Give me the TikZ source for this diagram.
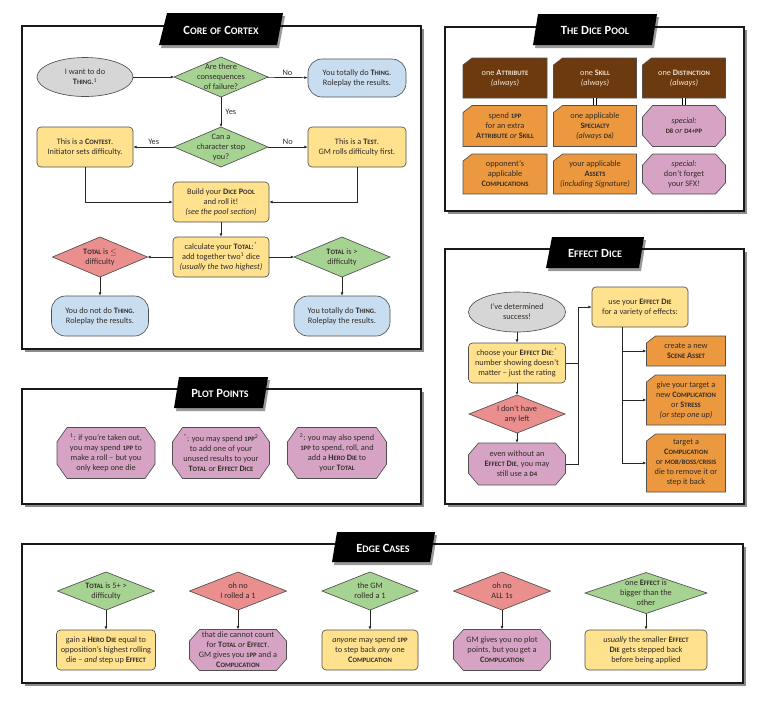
\documentclass[tikz,border=0pt]{standalone}
\usepackage{fontspec}
\setmainfont{Carlito}
\usetikzlibrary{shapes.geometric,arrows.meta,shadows}
\definecolor{greyf}{RGB}{214,214,214}
\definecolor{greenf}{RGB}{166,210,146}
\definecolor{bluef}{RGB}{201,221,241}
\definecolor{yellowf}{RGB}{255,225,142}
\definecolor{redf}{RGB}{234,142,142}
\definecolor{pinkf}{RGB}{214,163,197}
\definecolor{orangef}{RGB}{236,152,62}
\definecolor{brownf}{RGB}{108,58,14}
\definecolor{bord}{RGB}{80,80,80}
\definecolor{txtc}{RGB}{50,44,40}
\definecolor{cream}{RGB}{242,228,212}
\makeatletter
\newcommand\SC[2]{\textbf{#1{\fontsize{\strip@pt\dimexpr0.8\dimexpr\f@size pt\relax\relax}{\f@baselineskip}\selectfont\MakeUppercase{#2}}}}
\makeatother
\tikzset{
  txt/.style={font=\fontsize{8.3}{10}\selectfont, text=txtc, align=center, inner sep=0pt},
  base/.style={draw=bord, line width=0.65pt, inner sep=1pt, txt},
  shp/.style={base, inner sep=0pt, outer sep=0pt, label={[txt]center:{#1}}},
  dia/.style={shp={#1}, diamond},
  ell/.style={shp={#1}, ellipse, fill=greyf},
  shapeline/.style={draw=bord, line width=0.65pt},
  ybox/.style={base, rectangle, rounded corners=4pt, fill=yellowf},
  bbox/.style={base, rectangle, rounded corners=14pt, fill=bluef},
  arr/.style={-{Latex[length=3.2pt,width=2.8pt]}, line width=0.7pt, draw=black!85},
  ln/.style={line width=0.7pt, draw=black!85},
  lbl/.style={font=\fontsize{8.3}{10}\selectfont, text=txtc, inner sep=1pt},
  panel/.style={draw=black!90, line width=1.3pt, fill=white, drop shadow={shadow xshift=3pt, shadow yshift=-3pt, opacity=0.45, fill=black}},
  tab/.style={fill=black, drop shadow={shadow xshift=2pt, shadow yshift=-3pt, opacity=0.4, fill=black}},
  tabtxt/.style={font=\fontsize{12.5}{13}\selectfont, text=white, inner sep=0pt},
}
% octagon: #1 fill, #2 name, #3 x, #4 y, #5 w, #6 h, #7 text
\newcommand\octo[7]{%
  \filldraw[shapeline, fill=#1] ({#3-#5/2+10},{#4-#6/2}) -- ({#3+#5/2-10},{#4-#6/2}) -- ({#3+#5/2},{#4-#6/2+0.28*#6}) -- ({#3+#5/2},{#4+#6/2-0.28*#6}) -- ({#3+#5/2-10},{#4+#6/2}) -- ({#3-#5/2+10},{#4+#6/2}) -- ({#3-#5/2},{#4+#6/2-0.28*#6}) -- ({#3-#5/2},{#4-#6/2+0.28*#6}) -- cycle;
  \node[txt, minimum width=#5pt, minimum height=#6pt] (#2) at (#3,#4) {#7};}
% cut corner box (top-left): #1 fill, #2 name, #3 x, #4 y, #5 w, #6 h, #7 text
\newcommand\cutbox[7]{%
  \filldraw[shapeline, fill=#1] ({#3-#5/2+9},{#4-#6/2}) -- ({#3+#5/2},{#4-#6/2}) -- ({#3+#5/2},{#4+#6/2}) -- ({#3-#5/2},{#4+#6/2}) -- ({#3-#5/2},{#4-#6/2+7}) -- cycle;
  \node[txt, minimum width=#5pt, minimum height=#6pt] (#2) at (#3,#4) {#7};}
\begin{document}
\begin{tikzpicture}[x=1pt,y=-1pt]
\fill[white] (0,0) rectangle (768,705);
\useasboundingbox (0,0) rectangle (768,705);

% ---------- panels ----------
\draw[panel] (22,26) rectangle (421,349);
\draw[panel] (445,27) rectangle (744,211);
\draw[panel] (445,249) rectangle (744,504);
\draw[panel] (22,389) rectangle (421,504);
\draw[panel] (22,544) rectangle (743,683);

% ---------- tabs ----------
\fill[tab] (167,13) -- (283,13) -- (277,45) -- (159,45) -- cycle;
\node[tabtxt] (tcore) at (221,30) {\SC{C}{ore} \SC{}{of} \SC{C}{ortex}};
\fill[tab] (538,14) -- (657,14) -- (652,45) -- (533,45) -- cycle;
\node[tabtxt] (tpool) at (595,30) {\SC{T}{he} \SC{D}{ice} \SC{P}{ool}};
\fill[tab] (552,237) -- (644,237) -- (639,268) -- (546,268) -- cycle;
\node[tabtxt] (teff) at (595,253) {\SC{E}{ffect} \SC{D}{ice}};
\fill[tab] (179,377) -- (268,377) -- (263,408) -- (174,408) -- cycle;
\node[tabtxt] (tplot) at (220,393) {\SC{P}{lot} \SC{P}{oints}};
\fill[tab] (337,532) -- (435,532) -- (430,562) -- (332,562) -- cycle;
\node[tabtxt] (tedge) at (383,548) {\SC{E}{dge} \SC{C}{ases}};

% ---------- Core of Cortex ----------
\node[ell={I want to do\\\SC{T}{hing}.\textsuperscript{1}}, minimum width=96pt, minimum height=39pt] (want) at (85,77) {};
\node[dia={Are there\\consequences\\of failure?}, fill=greenf, minimum width=94pt, minimum height=40pt] (cons) at (221,77) {};
\node[bbox, minimum width=98pt, minimum height=38pt] (do1) at (357,78) {You totally do \SC{T}{hing}.\\Roleplay the results.};
\node[dia={Can a\\character stop\\you?}, fill=greenf, minimum width=94pt, minimum height=40pt] (stop) at (221,147) {};
\node[ybox, minimum width=96pt, minimum height=40pt] (contest) at (85,147) {This is a \SC{C}{ontest}.\\Initiator sets difficulty.};
\node[ybox, minimum width=98pt, minimum height=40pt] (test) at (357,147) {This is a \SC{T}{est}.\\GM rolls difficulty first.};
\node[ybox, minimum width=96pt, minimum height=40pt] (build) at (221,202) {Build your \SC{D}{ice} \SC{P}{ool}\\and roll it!\\\textit{(see the pool section)}};
\node[ybox, minimum width=96pt, minimum height=40pt] (calc) at (221,257) {calculate your \SC{T}{otal}:\textsuperscript{*}\\add together two\textsuperscript{1} dice\\\textit{(usually the two highest)}};
\node[dia={\SC{T}{otal} is $\leq$\\difficulty}, fill=redf, minimum width=95pt, minimum height=40pt] (le) at (100,257) {};
\node[dia={\SC{T}{otal} is >\\difficulty}, fill=greenf, minimum width=96pt, minimum height=40pt] (gt) at (342,257) {};
\node[bbox, minimum width=97pt, minimum height=40pt] (notdo) at (100,316) {You do not do \SC{T}{hing}.\\Roleplay the results.};
\node[bbox, minimum width=96pt, minimum height=40pt] (do2) at (342,316) {You totally do \SC{T}{hing}.\\Roleplay the results.};

\draw[arr] (want) -- (cons);
\draw[arr] (cons) -- node[lbl, above=1pt] {No} (do1);
\draw[arr] (cons) -- node[lbl, right=3pt] {Yes} (stop);
\draw[arr] (stop) -- node[lbl, above=1pt] {Yes} (contest);
\draw[arr] (stop) -- node[lbl, above=1pt] {No} (test);
\draw[arr] (contest) |- (build);
\draw[arr] (test) |- (build);
\draw[arr] (build) -- (calc);
\draw[arr] (calc) -- (le);
\draw[arr] (calc) -- (gt);
\draw[arr] (le) -- (notdo);
\draw[arr] (gt) -- (do2);

% ---------- The Dice Pool ----------
\cutbox{brownf}{attr}{505}{78}{84}{40}{\color{cream}one \SC{A}{ttribute}\\\color{cream}\textit{(always)}}
\cutbox{brownf}{skill}{595}{78}{83}{40}{\color{cream}one \SC{S}{kill}\\\color{cream}\textit{(always)}}
\cutbox{brownf}{dist}{684}{78}{83}{40}{\color{cream}one \SC{D}{istinction}\\\color{cream}\textit{(always)}}
\cutbox{orangef}{spend}{505}{126}{84}{41}{spend \SC{}{1pp}\\for an extra\\\SC{A}{ttribute} \textit{or} \SC{S}{kill}}
\cutbox{orangef}{spec}{595}{126}{83}{41}{one applicable\\\SC{S}{pecialty}\\\textit{(always \SC{}{d6})}}
\octo{pinkf}{sp1}{684}{126}{83}{41}{\textit{special:}\\\SC{}{d8} \textit{or} \SC{}{d4+pp}}
\cutbox{orangef}{opp}{505}{174}{84}{40}{opponent's\\applicable\\\SC{C}{omplications}}
\cutbox{orangef}{assets}{595}{174}{83}{40}{your applicable\\\SC{A}{ssets}\\\textit{(including Signature)}}
\octo{pinkf}{sp2}{684}{174}{83}{40}{\textit{special:}\\don't forget\\your SFX!}
\draw[line width=0.8pt, double=white, double distance=2pt] (skill) -- (spec);
\draw[line width=0.8pt, double=white, double distance=2pt] (dist) -- (sp1);

% ---------- Effect Dice ----------
\node[ell={I've determined\\success!}, minimum width=97pt, minimum height=40pt] (succ) at (517,312) {};
\node[ybox, minimum width=97pt, minimum height=40pt] (choose) at (517,363) {choose your \SC{E}{ffect} \SC{D}{ie}:\textsuperscript{*}\\number showing doesn't\\matter -- just the rating};
\node[dia={I don't have\\any left}, fill=redf, minimum width=96pt, minimum height=38pt] (dont) at (517,414) {};
\octo{pinkf}{without}{517}{464}{97}{42}{even without an\\\SC{E}{ffect} \SC{D}{ie}, you may\\still use a \SC{}{d4}}
\node[ybox, minimum width=96pt, minimum height=40pt] (use) at (640,307) {use your \SC{E}{ffect} \SC{D}{ie}\\for a variety of effects:};
\cutbox{orangef}{sa}{686}{351}{79}{30}{create a new\\\SC{S}{cene} \SC{A}{sset}}
\cutbox{orangef}{comp}{686}{400}{79}{50}{give your target a\\new \SC{C}{omplication}\\or \SC{S}{tress}\\\textit{(or step one up)}}
\cutbox{orangef}{tgt}{686}{463}{79}{58}{target a\\\SC{C}{omplication}\\or \SC{}{mob/boss/crisis}\\die to remove it or\\step it back}

\draw[arr] (succ) -- (choose);
\draw[arr] (choose) -- (dont);
\draw[arr] (dont) -- (without);
\coordinate (bus) at (578,363);
\draw[arr] (choose.east) -- (bus) |- (use.west);
\draw[ln] (without.east) -| (bus);
\coordinate (trunk) at (622,327);
\draw[arr] (trunk) |- (sa.west);
\draw[arr] (trunk) |- (comp.west);
\draw[arr] (trunk) |- (tgt.west);

% ---------- Plot Points ----------
\octo{pinkf}{pp1}{106}{453}{98}{51}{\textsuperscript{1}: if you're taken out,\\you may spend \SC{}{1pp} to\\make a roll -- but you\\only keep one die}
\octo{pinkf}{pp2}{221}{453}{97}{51}{\textsuperscript{*}: you may spend \SC{}{1pp}\textsuperscript{2}\\to add one of your\\unused results to your\\\SC{T}{otal} or \SC{E}{ffect} \SC{D}{ice}}
\octo{pinkf}{pp3}{337}{453}{99}{51}{\textsuperscript{2}: you may also spend\\\SC{}{1pp} to spend, roll, and\\add a \SC{H}{ero} \SC{D}{ie} to\\your \SC{T}{otal}}

% ---------- Edge Cases ----------
\node[dia={\SC{T}{otal} is 5+ >\\difficulty}, fill=greenf, minimum width=97pt, minimum height=38pt] (e1d) at (106,591) {};
\node[ybox, minimum width=99pt, minimum height=40pt] (e1b) at (106,650) {gain a \SC{H}{ero} \SC{D}{ie} equal to\\opposition's highest rolling\\die -- \textit{and} step up \SC{E}{ffect}};
\node[dia={oh no\\I rolled a 1}, fill=redf, minimum width=97pt, minimum height=38pt] (e2d) at (238,591) {};
\octo{pinkf}{e2b}{238}{650}{97}{41}{that die cannot count\\for \SC{T}{otal} \textit{or} \SC{E}{ffect}.\\GM gives you \SC{}{1pp} and a\\\SC{C}{omplication}}
\node[dia={the GM\\rolled a 1}, fill=greenf, minimum width=96pt, minimum height=38pt] (e3d) at (370,591) {};
\node[ybox, minimum width=96pt, minimum height=40pt] (e3b) at (370,650) {\textit{anyone} may spend \SC{}{1pp}\\to step back \textit{any} one\\\SC{C}{omplication}};
\node[dia={oh no\\ALL 1s}, fill=redf, minimum width=97pt, minimum height=38pt] (e4d) at (502,591) {};
\octo{pinkf}{e4b}{502}{650}{97}{41}{GM gives you no plot\\points, but you get a\\\SC{C}{omplication}}
\node[dia={one \SC{E}{ffect} is\\bigger than the\\other}, fill=greenf, minimum width=122pt, minimum height=41pt] (e5d) at (646,593) {};
\node[ybox, minimum width=122pt, minimum height=40pt] (e5b) at (646,650) {\textit{usually} the smaller \SC{E}{ffect}\\\SC{D}{ie} gets stepped back\\before being applied};

\draw[arr] (e1d) -- (e1b);
\draw[arr] (e2d) -- (e2b);
\draw[arr] (e3d) -- (e3b);
\draw[arr] (e4d) -- (e4b);
\draw[arr] (e5d) -- (e5b);
\end{tikzpicture}
\end{document}
